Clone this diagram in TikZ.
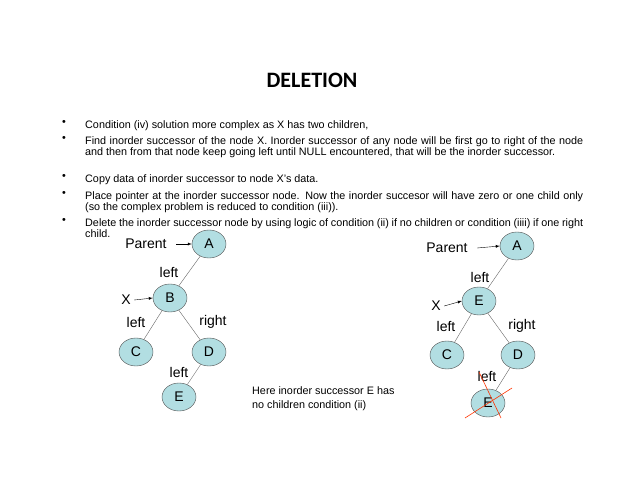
\documentclass[tikz,border=0pt]{standalone}
\usepackage{fontspec}
\usetikzlibrary{shapes.geometric}
\setmainfont{Liberation Sans}
\newfontfamily\titlefont{Carlito}
\definecolor{nodefill}{RGB}{178,222,226}
\begin{document}
\begin{tikzpicture}[x=1pt,y=-1pt,
  nd/.style={ellipse,draw=black!70,fill=nodefill,minimum width=34pt,minimum height=28pt,inner sep=0pt,font=\fontsize{14}{14}\selectfont},
  lbl/.style={font=\fontsize{14}{14}\selectfont},
  edge/.style={draw=black!60},
  ptr/.style={-latex,draw=black},
  bul/.style={anchor=north west,text width=498pt,align=justify,inner sep=0pt,font=\fontsize{10.8}{11}\selectfont},
  dot/.style={anchor=north west,inner sep=0pt,font=\fontsize{10.8}{11}\selectfont},
  cross/.style={draw=red!60!orange,line width=0.6pt}]
\useasboundingbox (0,0) rectangle (638,493);
\node[font=\titlefont\bfseries\fontsize{22}{22}\selectfont] (title) at (312,80) {DELETION};
\foreach \y in {120,136,174,191,218} {\node[dot] at (62,\y) {•};}
\node[bul] (b1) at (85,120) {Condition (iv) solution more complex as X has two children,};
\node[bul] (b2) at (85,136) {Find inorder successor of the node X. Inorder successor of any node will be first go to right of the node and then from that node keep going left until NULL encountered, that will be the inorder successor.};
\node[bul] (b3) at (85,174) {Copy data of inorder successor to node X’s data.};
\node[bul] (b4) at (85,191) {Place pointer at the inorder successor node. Now the inorder succesor will have zero or one child only (so the complex problem is reduced to condition (iii)).};
\node[bul] (b5) at (85,218) {Delete the inorder successor node by using logic of condition (ii) if no children or condition (iiii) if one right child.};
% left tree
\node[nd] (A) at (209,244) {A};
\node[nd] (B) at (170,298) {B};
\node[nd] (C) at (136,352) {C};
\node[nd] (D) at (209,352) {D};
\node[nd] (E) at (179,397) {E};
\draw[edge] (A)--(B); \draw[edge] (B)--(C); \draw[edge] (B)--(D); \draw[edge] (D)--(E);
\node[lbl] (P1) at (146,244) {Parent};
\draw[ptr] ([xshift=6pt]P1.east) -- (A.west);
\node[lbl] (X1) at (126,300) {X};
\draw[ptr] (X1.east) -- (B.west);
\node[lbl] at (169,272) {left};
\node[lbl] at (136,322) {left};
\node[lbl] at (213,322) {right};
\node[lbl] at (179,372) {left};
\node[anchor=north west,inner sep=0pt,font=\fontsize{10.8}{14}\selectfont,align=left] (cap) at (252,386) {Here inorder successor E has\\no children condition (ii)};
% right tree
\node[nd] (A2) at (517,246) {A};
\node[nd] (E2) at (479,301) {E};
\node[nd] (C2) at (447,355) {C};
\node[nd] (D2) at (518,355) {D};
\node[nd] (F2) at (488,403) {E};
\draw[edge] (A2)--(E2); \draw[edge] (E2)--(C2); \draw[edge] (E2)--(D2); \draw[edge] (D2)--(F2);
\node[lbl] (P2) at (447,248) {Parent};
\draw[ptr] ([xshift=6pt]P2.east) -- (A2.west);
\node[lbl] (X2) at (436,306) {X};
\draw[ptr] (X2.east) -- (E2.west);
\node[lbl] at (480,277) {left};
\node[lbl] at (446,326) {left};
\node[lbl] at (522,326) {right};
\node[lbl] at (487,376) {left};
\coordinate (r1) at (479,372); \coordinate (r2) at (501,418);
\coordinate (r3) at (512,388); \coordinate (r4) at (465,418);
\draw[cross] (r1)--(r2); \draw[cross] (r3)--(r4);
\end{tikzpicture}
\end{document}
